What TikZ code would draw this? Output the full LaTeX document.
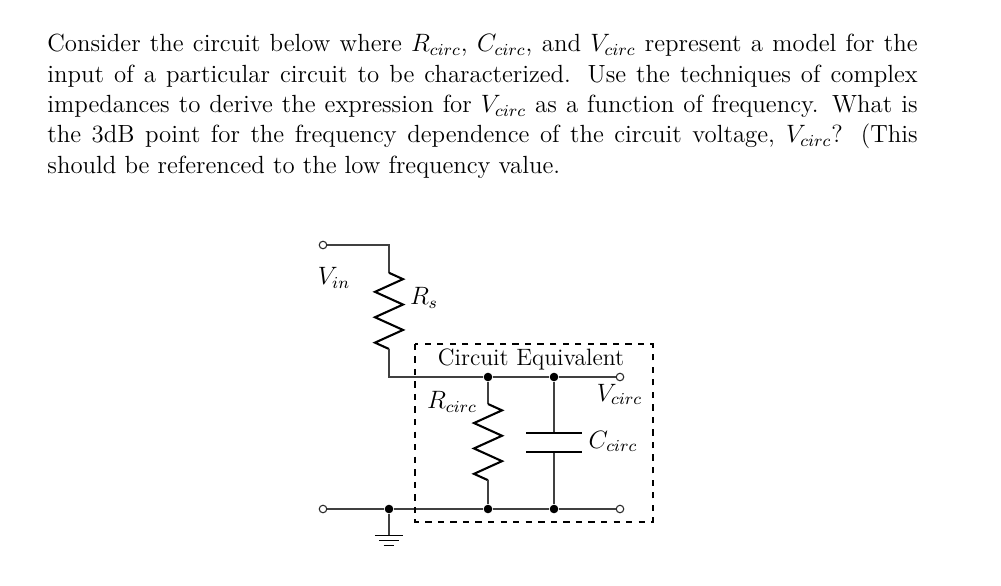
\documentclass[tikz,border=0pt]{standalone}
\usepackage{amsmath}
\usepackage{amssymb}
\tikzset{
  wire/.style={line width=0.7pt,black!75},
  comp/.style={line width=1pt},
  gndbar/.style={line width=0.7pt},
  term/.style={circle,draw=black!85,fill=white,inner sep=0pt,minimum size=3.6pt,line width=0.5pt},
  dot/.style={circle,fill=black,inner sep=0pt,minimum size=4.1pt},
  lbl/.style={inner sep=0pt,font=\fontsize{12}{14.5}\selectfont},
  zigzag/.style={insert path={-- ++(14,6.35) -- ++(-28,12.7) -- ++(28,12.7) -- ++(-28,12.7) -- ++(28,12.7) -- ++(-28,12.7) -- ++(14,6.35)}}
}
\begin{document}
\begin{tikzpicture}[x=0.478pt,y=-0.478pt]
\useasboundingbox (0,0) rectangle (1001,586);
\node [inner sep=0pt,font=\fontsize{11.87}{14.5}\selectfont,anchor=north west,text width=416pt,align=justify] (question) at (47,34) {Consider the circuit below where $R_{circ}$, $C_{circ}$, and $V_{circ}$ represent a model for the input of a particular circuit to be characterized. Use the techniques of complex impedances to derive the expression for $V_{circ}$ as a function of frequency. What is the 3dB point for the frequency dependence of the circuit voltage, $V_{circ}$? (This should be referenced to the low frequency value.\par};
% terminals and junctions
\node [term] (intop) at (323,245) {};
\node [term] (inbot) at (323,509) {};
\node [term] (outtop) at (620,377) {};
\node [term] (outbot) at (620,509) {};
\coordinate (corner) at (389,245);
\coordinate (rstop) at (389,272.8);
\coordinate (rsbot) at (389,349);
\coordinate (bend) at (389,377);
\node [dot] (jr) at (488,377) {};
\node [dot] (jc) at (554,377) {};
\node [dot] (jg) at (389,509) {};
\node [dot] (br) at (488,509) {};
\node [dot] (bc) at (554,509) {};
\coordinate (rctop) at (488,404);
\coordinate (rcbot) at (488,480.4);
\coordinate (captop) at (554,433.3);
\coordinate (capbot) at (554,452);
\coordinate (gnd) at (389,535.5);
% wires
\draw [wire] (intop) -- (corner) -- (rstop);
\draw [comp] (rstop) [zigzag];
\draw [wire] (rsbot) -- (bend) -- (jr) -- (jc) -- (outtop);
\draw [wire] (inbot) -- (jg) -- (br) -- (bc) -- (outbot);
\draw [wire] (jr) -- (rctop);
\draw [comp] (rctop) [zigzag];
\draw [wire] (rcbot) -- (br);
\draw [wire] (jc) -- (captop);
\draw [wire] (capbot) -- (bc);
\draw [comp] ([xshift=-13.2pt]captop) -- ([xshift=13.2pt]captop);
\draw [comp] ([xshift=-13.2pt]capbot) -- ([xshift=13.2pt]capbot);
% ground
\draw [wire] (jg) -- (gnd);
\draw [gndbar] ([xshift=-6.7pt]gnd) -- ([xshift=6.7pt]gnd);
\draw [gndbar] ([xshift=-4.6pt,yshift=-2.4pt]gnd) -- ([xshift=4.6pt,yshift=-2.4pt]gnd);
\draw [gndbar] ([xshift=-2.6pt,yshift=-4.8pt]gnd) -- ([xshift=2.6pt,yshift=-4.8pt]gnd);
% box
\draw [dashed,line width=0.8pt] (415.3,343.7) rectangle (652.7,522);
% labels
\node [lbl] (vin) at (334,278) {$V_{in}$};
\node [lbl] (rs) at (424,298) {$R_s$};
\node [inner sep=0pt,font=\fontsize{11.3}{14}\selectfont] (title) at (531,359) {Circuit Equivalent};
\node [lbl] (rcirc) at (452,402) {$R_{circ}$};
\node [lbl] (vcirc) at (619.5,394.5) {$V_{circ}$};
\node [lbl] (ccirc) at (613,441.5) {$C_{circ}$};
\end{tikzpicture}
\end{document}
